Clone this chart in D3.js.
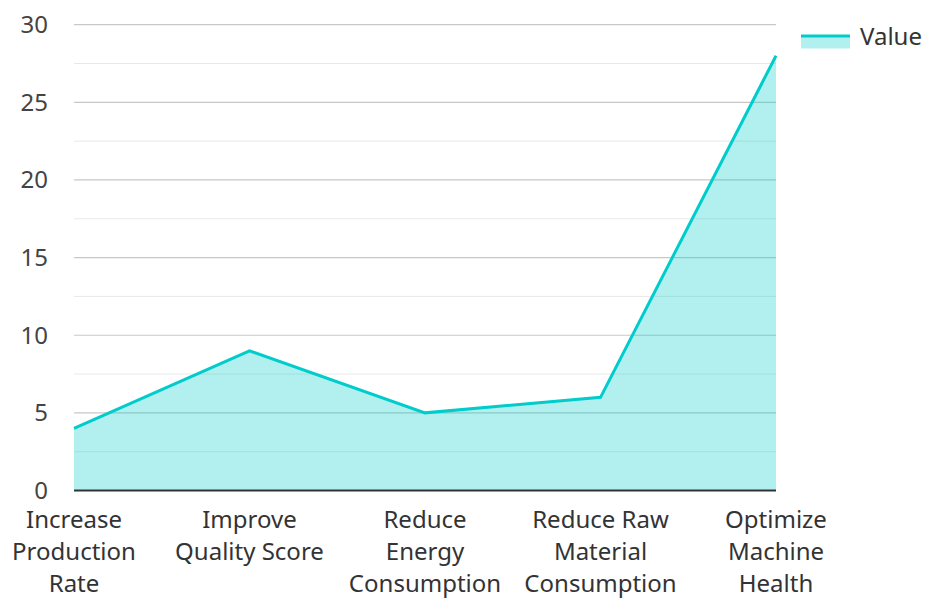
<!DOCTYPE html>
<html>
<head>
    <meta charset="utf-8">
    <script src="https://d3js.org/d3.v7.min.js"></script>
    <style>
        body { margin: 0; background: #fff; }
        text { font-family: "Noto Sans", "Open Sans", sans-serif; }
    </style>
</head>
<body>
<script>
    // chart data
    let categories = [
        ["Increase", "Production", "Rate"],
        ["Improve", "Quality Score"],
        ["Reduce", "Energy", "Consumption"],
        ["Reduce Raw", "Material", "Consumption"],
        ["Optimize", "Machine", "Health"]
    ];
    let values = [4, 9, 5, 6, 28];
    let seriesName = "Value";
    let yTicks = [0, 5, 10, 15, 20, 25, 30];
    let yMinorTicks = [2.5, 7.5, 12.5, 17.5, 22.5, 27.5];

    let width = 925, height = 598;
    let plotLeft = 74, plotRight = 776, plotTop = 24.7, plotBottom = 490.5;
    let color = "#00cccc";
    let fontSize = 24;

    let svg = d3.select("body").append("svg")
        .attr("width", width)
        .attr("height", height);

    let x = d3.scalePoint()
        .domain(d3.range(categories.length))
        .range([plotLeft, plotRight]);

    let y = d3.scaleLinear()
        .domain([0, 30])
        .range([plotBottom, plotTop]);

    // grid
    svg.append("g").selectAll("line")
        .data(yMinorTicks)
        .join("line")
            .attr("x1", plotLeft).attr("x2", plotRight)
            .attr("y1", d => y(d)).attr("y2", d => y(d))
            .attr("stroke", "#e8e8e8")
            .attr("stroke-width", 1);

    svg.append("g").selectAll("line")
        .data(yTicks.filter(d => d > 0))
        .join("line")
            .attr("x1", plotLeft).attr("x2", plotRight)
            .attr("y1", d => y(d)).attr("y2", d => y(d))
            .attr("stroke", "#c8c8c8")
            .attr("stroke-width", 1.2);

    // area + line
    let area = d3.area()
        .x((d, i) => x(i))
        .y0(y(0))
        .y1(d => y(d));

    let line = d3.line()
        .x((d, i) => x(i))
        .y(d => y(d));

    svg.append("path")
        .datum(values)
        .attr("d", area)
        .attr("fill", color)
        .attr("fill-opacity", 0.3);

    svg.append("path")
        .datum(values)
        .attr("d", line)
        .attr("fill", "none")
        .attr("stroke", color)
        .attr("stroke-width", 3);

    // x axis line
    svg.append("line")
        .attr("x1", plotLeft).attr("x2", plotRight)
        .attr("y1", y(0)).attr("y2", y(0))
        .attr("stroke", "#333")
        .attr("stroke-width", 2);

    // y labels
    svg.append("g").selectAll("text")
        .data(yTicks)
        .join("text")
            .attr("x", 48)
            .attr("y", d => y(d))
            .attr("dy", "0.35em")
            .attr("text-anchor", "end")
            .attr("font-size", fontSize)
            .attr("fill", "#444")
            .text(d => d);

    // x labels
    let xl = svg.append("g").selectAll("text")
        .data(categories)
        .join("text")
            .attr("x", (d, i) => x(i))
            .attr("y", 528)
            .attr("text-anchor", "middle")
            .attr("font-size", fontSize)
            .attr("fill", "#333");

    xl.selectAll("tspan")
        .data(d => d)
        .join("tspan")
            .attr("x", function () { return this.parentNode.getAttribute("x"); })
            .attr("dy", (d, i) => i === 0 ? 0 : 32)
            .text(d => d);

    // legend
    let lg = svg.append("g");
    lg.append("rect")
        .attr("x", 801).attr("y", 36.5)
        .attr("width", 49).attr("height", 12)
        .attr("fill", color)
        .attr("fill-opacity", 0.3);
    lg.append("line")
        .attr("x1", 801).attr("x2", 850)
        .attr("y1", 36).attr("y2", 36)
        .attr("stroke", color)
        .attr("stroke-width", 3);
    lg.append("text")
        .attr("x", 860)
        .attr("y", 37)
        .attr("dy", "0.35em")
        .attr("font-size", fontSize)
        .attr("fill", "#333")
        .text(seriesName);
</script>
</body>
</html>
